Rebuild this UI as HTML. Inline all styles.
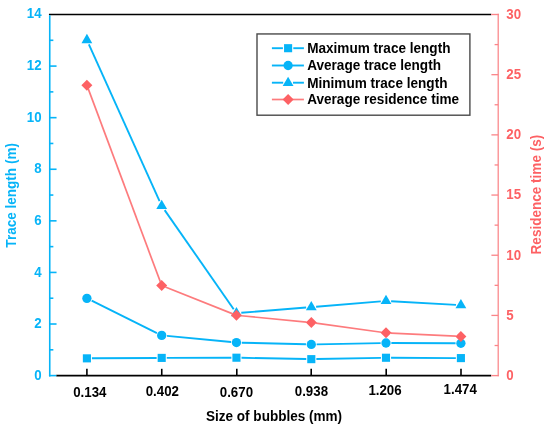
<!DOCTYPE html>
<html><head><meta charset="utf-8"><style>
html,body{margin:0;padding:0;background:#fff;}
svg{display:block;}
text{font-family:"Liberation Sans",Arial,sans-serif;font-weight:bold;}
.tl{font-size:13.3px;}
.tt{font-size:13.55px;}
.lg{font-size:13.58px;}
</style></head><body>
<svg width="550" height="429" viewBox="0 0 550 429">
<rect width="550" height="429" fill="#fff"/>
<line x1="48.95" y1="14.5" x2="491.2" y2="14.5" stroke="#000" stroke-width="1.6"/>
<line x1="56.25" y1="375.6" x2="491.2" y2="375.6" stroke="#000" stroke-width="1.6"/>
<line x1="48.95" y1="375.6" x2="56.25" y2="375.6" stroke="#06B4F8" stroke-width="1.6"/>
<line x1="491.2" y1="375.6" x2="498.8" y2="375.6" stroke="#FA8589" stroke-width="1.35"/>
<line x1="491.2" y1="14.5" x2="498.8" y2="14.5" stroke="#FA8589" stroke-width="1.35"/>
<line x1="49.75" y1="15.30" x2="49.75" y2="376.40" stroke="#06B4F8" stroke-width="1.6"/>
<line x1="498.2" y1="13.8" x2="498.2" y2="376.3" stroke="#FA8589" stroke-width="1.25"/>
<line x1="49.75" y1="349.81" x2="53.35" y2="349.81" stroke="#06B4F8" stroke-width="1.6"/>
<line x1="49.75" y1="324.01" x2="56.55" y2="324.01" stroke="#06B4F8" stroke-width="1.6"/>
<line x1="49.75" y1="298.22" x2="53.35" y2="298.22" stroke="#06B4F8" stroke-width="1.6"/>
<line x1="49.75" y1="272.43" x2="56.55" y2="272.43" stroke="#06B4F8" stroke-width="1.6"/>
<line x1="49.75" y1="246.64" x2="53.35" y2="246.64" stroke="#06B4F8" stroke-width="1.6"/>
<line x1="49.75" y1="220.84" x2="56.55" y2="220.84" stroke="#06B4F8" stroke-width="1.6"/>
<line x1="49.75" y1="195.05" x2="53.35" y2="195.05" stroke="#06B4F8" stroke-width="1.6"/>
<line x1="49.75" y1="169.26" x2="56.55" y2="169.26" stroke="#06B4F8" stroke-width="1.6"/>
<line x1="49.75" y1="143.46" x2="53.35" y2="143.46" stroke="#06B4F8" stroke-width="1.6"/>
<line x1="49.75" y1="117.67" x2="56.55" y2="117.67" stroke="#06B4F8" stroke-width="1.6"/>
<line x1="49.75" y1="91.88" x2="53.35" y2="91.88" stroke="#06B4F8" stroke-width="1.6"/>
<line x1="49.75" y1="66.09" x2="56.55" y2="66.09" stroke="#06B4F8" stroke-width="1.6"/>
<line x1="49.75" y1="40.29" x2="53.35" y2="40.29" stroke="#06B4F8" stroke-width="1.6"/>
<text transform="translate(41.60,379.80) scale(1,1.04)" class="tl" fill="#06B4F8" text-anchor="end">0</text>
<text transform="translate(41.60,328.21) scale(1,1.04)" class="tl" fill="#06B4F8" text-anchor="end">2</text>
<text transform="translate(41.60,276.63) scale(1,1.04)" class="tl" fill="#06B4F8" text-anchor="end">4</text>
<text transform="translate(41.60,225.04) scale(1,1.04)" class="tl" fill="#06B4F8" text-anchor="end">6</text>
<text transform="translate(41.60,173.46) scale(1,1.04)" class="tl" fill="#06B4F8" text-anchor="end">8</text>
<text transform="translate(41.60,121.87) scale(1,1.04)" class="tl" fill="#06B4F8" text-anchor="end">10</text>
<text transform="translate(41.60,70.29) scale(1,1.04)" class="tl" fill="#06B4F8" text-anchor="end">12</text>
<text transform="translate(41.60,18.00) scale(1,1.04)" class="tl" fill="#06B4F8" text-anchor="end">14</text>
<line x1="498.2" y1="345.51" x2="494.59999999999997" y2="345.51" stroke="#FA8589" stroke-width="1.3"/>
<line x1="498.2" y1="315.42" x2="491.4" y2="315.42" stroke="#FA8589" stroke-width="1.3"/>
<line x1="498.2" y1="285.33" x2="494.59999999999997" y2="285.33" stroke="#FA8589" stroke-width="1.3"/>
<line x1="498.2" y1="255.23" x2="491.4" y2="255.23" stroke="#FA8589" stroke-width="1.3"/>
<line x1="498.2" y1="225.14" x2="494.59999999999997" y2="225.14" stroke="#FA8589" stroke-width="1.3"/>
<line x1="498.2" y1="195.05" x2="491.4" y2="195.05" stroke="#FA8589" stroke-width="1.3"/>
<line x1="498.2" y1="164.96" x2="494.59999999999997" y2="164.96" stroke="#FA8589" stroke-width="1.3"/>
<line x1="498.2" y1="134.87" x2="491.4" y2="134.87" stroke="#FA8589" stroke-width="1.3"/>
<line x1="498.2" y1="104.77" x2="494.59999999999997" y2="104.77" stroke="#FA8589" stroke-width="1.3"/>
<line x1="498.2" y1="74.68" x2="491.4" y2="74.68" stroke="#FA8589" stroke-width="1.3"/>
<line x1="498.2" y1="44.59" x2="494.59999999999997" y2="44.59" stroke="#FA8589" stroke-width="1.3"/>
<text transform="translate(506.30,380.00) scale(1,1.04)" class="tl" fill="#FD6164">0</text>
<text transform="translate(506.30,319.82) scale(1,1.04)" class="tl" fill="#FD6164">5</text>
<text transform="translate(506.30,259.63) scale(1,1.04)" class="tl" fill="#FD6164">10</text>
<text transform="translate(506.30,199.45) scale(1,1.04)" class="tl" fill="#FD6164">15</text>
<text transform="translate(506.30,139.27) scale(1,1.04)" class="tl" fill="#FD6164">20</text>
<text transform="translate(506.30,79.08) scale(1,1.04)" class="tl" fill="#FD6164">25</text>
<text transform="translate(506.30,18.90) scale(1,1.04)" class="tl" fill="#FD6164">30</text>
<line x1="86.90" y1="375.6" x2="86.90" y2="368.8" stroke="#000" stroke-width="1.6"/>
<text transform="translate(89.80,396.60) scale(1,1.04)" class="tl" fill="#000" text-anchor="middle">0.134</text>
<line x1="161.75" y1="375.6" x2="161.75" y2="368.8" stroke="#000" stroke-width="1.6"/>
<text transform="translate(162.30,396.30) scale(1,1.04)" class="tl" fill="#000" text-anchor="middle">0.402</text>
<line x1="236.80" y1="375.6" x2="236.80" y2="368.8" stroke="#000" stroke-width="1.6"/>
<text transform="translate(236.40,397.10) scale(1,1.04)" class="tl" fill="#000" text-anchor="middle">0.670</text>
<line x1="311.20" y1="375.6" x2="311.20" y2="368.8" stroke="#000" stroke-width="1.6"/>
<text transform="translate(311.40,396.30) scale(1,1.04)" class="tl" fill="#000" text-anchor="middle">0.938</text>
<line x1="386.20" y1="375.6" x2="386.20" y2="368.8" stroke="#000" stroke-width="1.6"/>
<text transform="translate(385.00,395.20) scale(1,1.04)" class="tl" fill="#000" text-anchor="middle">1.206</text>
<line x1="461.00" y1="375.6" x2="461.00" y2="368.8" stroke="#000" stroke-width="1.6"/>
<text transform="translate(460.20,394.40) scale(1,1.04)" class="tl" fill="#000" text-anchor="middle">1.474</text>
<text transform="translate(274.05,420.60) scale(1,1.04)" class="tt" fill="#000" text-anchor="middle">Size of bubbles (mm)</text>
<text transform="translate(15.70,195.35) rotate(-90) scale(1,1.04)" class="tt" fill="#06B4F8" text-anchor="middle">Trace length (m)</text>
<text transform="translate(541.00,194.60) rotate(-90) scale(1,1.04)" class="tt" fill="#FD6164" text-anchor="middle">Residence time (s)</text>
<line x1="91.95" y1="358.32" x2="156.65" y2="357.93" stroke="#06B4F8" stroke-width="1.9"/>
<line x1="166.75" y1="357.89" x2="231.40" y2="357.71" stroke="#06B4F8" stroke-width="1.9"/>
<line x1="241.50" y1="357.80" x2="306.25" y2="359.05" stroke="#06B4F8" stroke-width="1.9"/>
<line x1="316.35" y1="359.06" x2="380.95" y2="357.84" stroke="#06B4F8" stroke-width="1.9"/>
<line x1="391.05" y1="357.77" x2="455.85" y2="358.08" stroke="#06B4F8" stroke-width="1.9"/>
<rect x="82.85" y="354.30" width="8.1" height="8.1" fill="#06B4F8"/>
<rect x="157.65" y="353.85" width="8.1" height="8.1" fill="#06B4F8"/>
<rect x="232.40" y="353.65" width="8.1" height="8.1" fill="#06B4F8"/>
<rect x="307.25" y="355.10" width="8.1" height="8.1" fill="#06B4F8"/>
<rect x="381.95" y="353.70" width="8.1" height="8.1" fill="#06B4F8"/>
<rect x="456.85" y="354.05" width="8.1" height="8.1" fill="#06B4F8"/>
<line x1="91.69" y1="300.72" x2="156.91" y2="333.03" stroke="#06B4F8" stroke-width="1.9"/>
<line x1="167.03" y1="335.91" x2="231.12" y2="342.04" stroke="#06B4F8" stroke-width="1.9"/>
<line x1="241.80" y1="342.69" x2="305.95" y2="344.31" stroke="#06B4F8" stroke-width="1.9"/>
<line x1="316.65" y1="344.35" x2="380.65" y2="343.10" stroke="#06B4F8" stroke-width="1.9"/>
<line x1="391.35" y1="343.02" x2="455.55" y2="343.28" stroke="#06B4F8" stroke-width="1.9"/>
<circle cx="86.90" cy="298.35" r="4.65" fill="#06B4F8"/>
<circle cx="161.70" cy="335.40" r="4.65" fill="#06B4F8"/>
<circle cx="236.45" cy="342.55" r="4.65" fill="#06B4F8"/>
<circle cx="311.30" cy="344.45" r="4.65" fill="#06B4F8"/>
<circle cx="386.00" cy="343.00" r="4.65" fill="#06B4F8"/>
<circle cx="460.90" cy="343.30" r="4.65" fill="#06B4F8"/>
<line x1="88.87" y1="44.43" x2="159.55" y2="201.08" stroke="#06B4F8" stroke-width="1.9"/>
<line x1="164.66" y1="210.10" x2="233.69" y2="309.18" stroke="#06B4F8" stroke-width="1.9"/>
<line x1="241.29" y1="312.76" x2="306.13" y2="307.56" stroke="#06B4F8" stroke-width="1.9"/>
<line x1="316.13" y1="306.75" x2="380.82" y2="301.38" stroke="#06B4F8" stroke-width="1.9"/>
<line x1="391.12" y1="301.24" x2="456.02" y2="304.88" stroke="#06B4F8" stroke-width="1.9"/>
<polygon points="86.90,33.85 92.30,43.15 81.50,43.15" fill="#06B4F8"/>
<polygon points="161.70,199.65 167.10,208.95 156.30,208.95" fill="#06B4F8"/>
<polygon points="236.45,306.95 241.85,316.25 231.05,316.25" fill="#06B4F8"/>
<polygon points="311.30,300.95 316.70,310.25 305.90,310.25" fill="#06B4F8"/>
<polygon points="386.00,294.75 391.40,304.05 380.60,304.05" fill="#06B4F8"/>
<polygon points="460.90,298.95 466.30,308.25 455.50,308.25" fill="#06B4F8"/>
<line x1="88.29" y1="88.92" x2="160.31" y2="281.78" stroke="#FD7B7D" stroke-width="1.7"/>
<line x1="165.35" y1="286.96" x2="232.80" y2="313.84" stroke="#FD7B7D" stroke-width="1.7"/>
<line x1="241.17" y1="315.75" x2="306.58" y2="322.05" stroke="#FD7B7D" stroke-width="1.7"/>
<line x1="315.83" y1="323.13" x2="381.47" y2="332.22" stroke="#FD7B7D" stroke-width="1.7"/>
<line x1="390.95" y1="333.08" x2="455.95" y2="336.17" stroke="#FD7B7D" stroke-width="1.7"/>
<polygon points="86.90,79.70 92.40,85.20 86.90,90.70 81.40,85.20" fill="#FD6164"/>
<polygon points="161.70,280.00 167.20,285.50 161.70,291.00 156.20,285.50" fill="#FD6164"/>
<polygon points="236.45,309.80 241.95,315.30 236.45,320.80 230.95,315.30" fill="#FD6164"/>
<polygon points="311.30,317.00 316.80,322.50 311.30,328.00 305.80,322.50" fill="#FD6164"/>
<polygon points="386.00,327.35 391.50,332.85 386.00,338.35 380.50,332.85" fill="#FD6164"/>
<polygon points="460.90,330.90 466.40,336.40 460.90,341.90 455.40,336.40" fill="#FD6164"/>
<rect x="257.0" y="33.95" width="212.89999999999998" height="81.25" fill="#fff" stroke="#4a4a4a" stroke-width="1.4"/>
<line x1="271.9" y1="48.20" x2="282.90" y2="48.20" stroke="#06B4F8" stroke-width="1.9"/>
<line x1="293.30" y1="48.20" x2="303.9" y2="48.20" stroke="#06B4F8" stroke-width="1.9"/>
<rect x="284.05" y="44.15" width="8.1" height="8.1" fill="#06B4F8"/>
<text transform="translate(307.20,52.60) scale(1,1.04)" class="lg" fill="#000">Maximum trace length</text>
<line x1="271.9" y1="65.50" x2="285.10" y2="65.50" stroke="#06B4F8" stroke-width="1.9"/>
<line x1="291.10" y1="65.50" x2="303.9" y2="65.50" stroke="#06B4F8" stroke-width="1.9"/>
<circle cx="288.10" cy="65.50" r="4.65" fill="#06B4F8"/>
<text transform="translate(307.20,69.50) scale(1,1.04)" class="lg" fill="#000">Average trace length</text>
<line x1="271.9" y1="82.70" x2="283.20" y2="82.70" stroke="#06B4F8" stroke-width="1.9"/>
<line x1="293.00" y1="82.70" x2="303.9" y2="82.70" stroke="#06B4F8" stroke-width="1.9"/>
<polygon points="288.10,76.70 293.50,86.00 282.70,86.00" fill="#06B4F8"/>
<text transform="translate(307.20,87.50) scale(1,1.04)" class="lg" fill="#000">Minimum trace length</text>
<line x1="271.9" y1="99.50" x2="284.10" y2="99.50" stroke="#FD7B7D" stroke-width="1.7"/>
<line x1="292.10" y1="99.50" x2="303.9" y2="99.50" stroke="#FD7B7D" stroke-width="1.7"/>
<polygon points="288.10,94.00 293.60,99.50 288.10,105.00 282.60,99.50" fill="#FD6164"/>
<text transform="translate(307.20,103.80) scale(1,1.04)" class="lg" fill="#000">Average residence time</text>
</svg>
</body></html>
